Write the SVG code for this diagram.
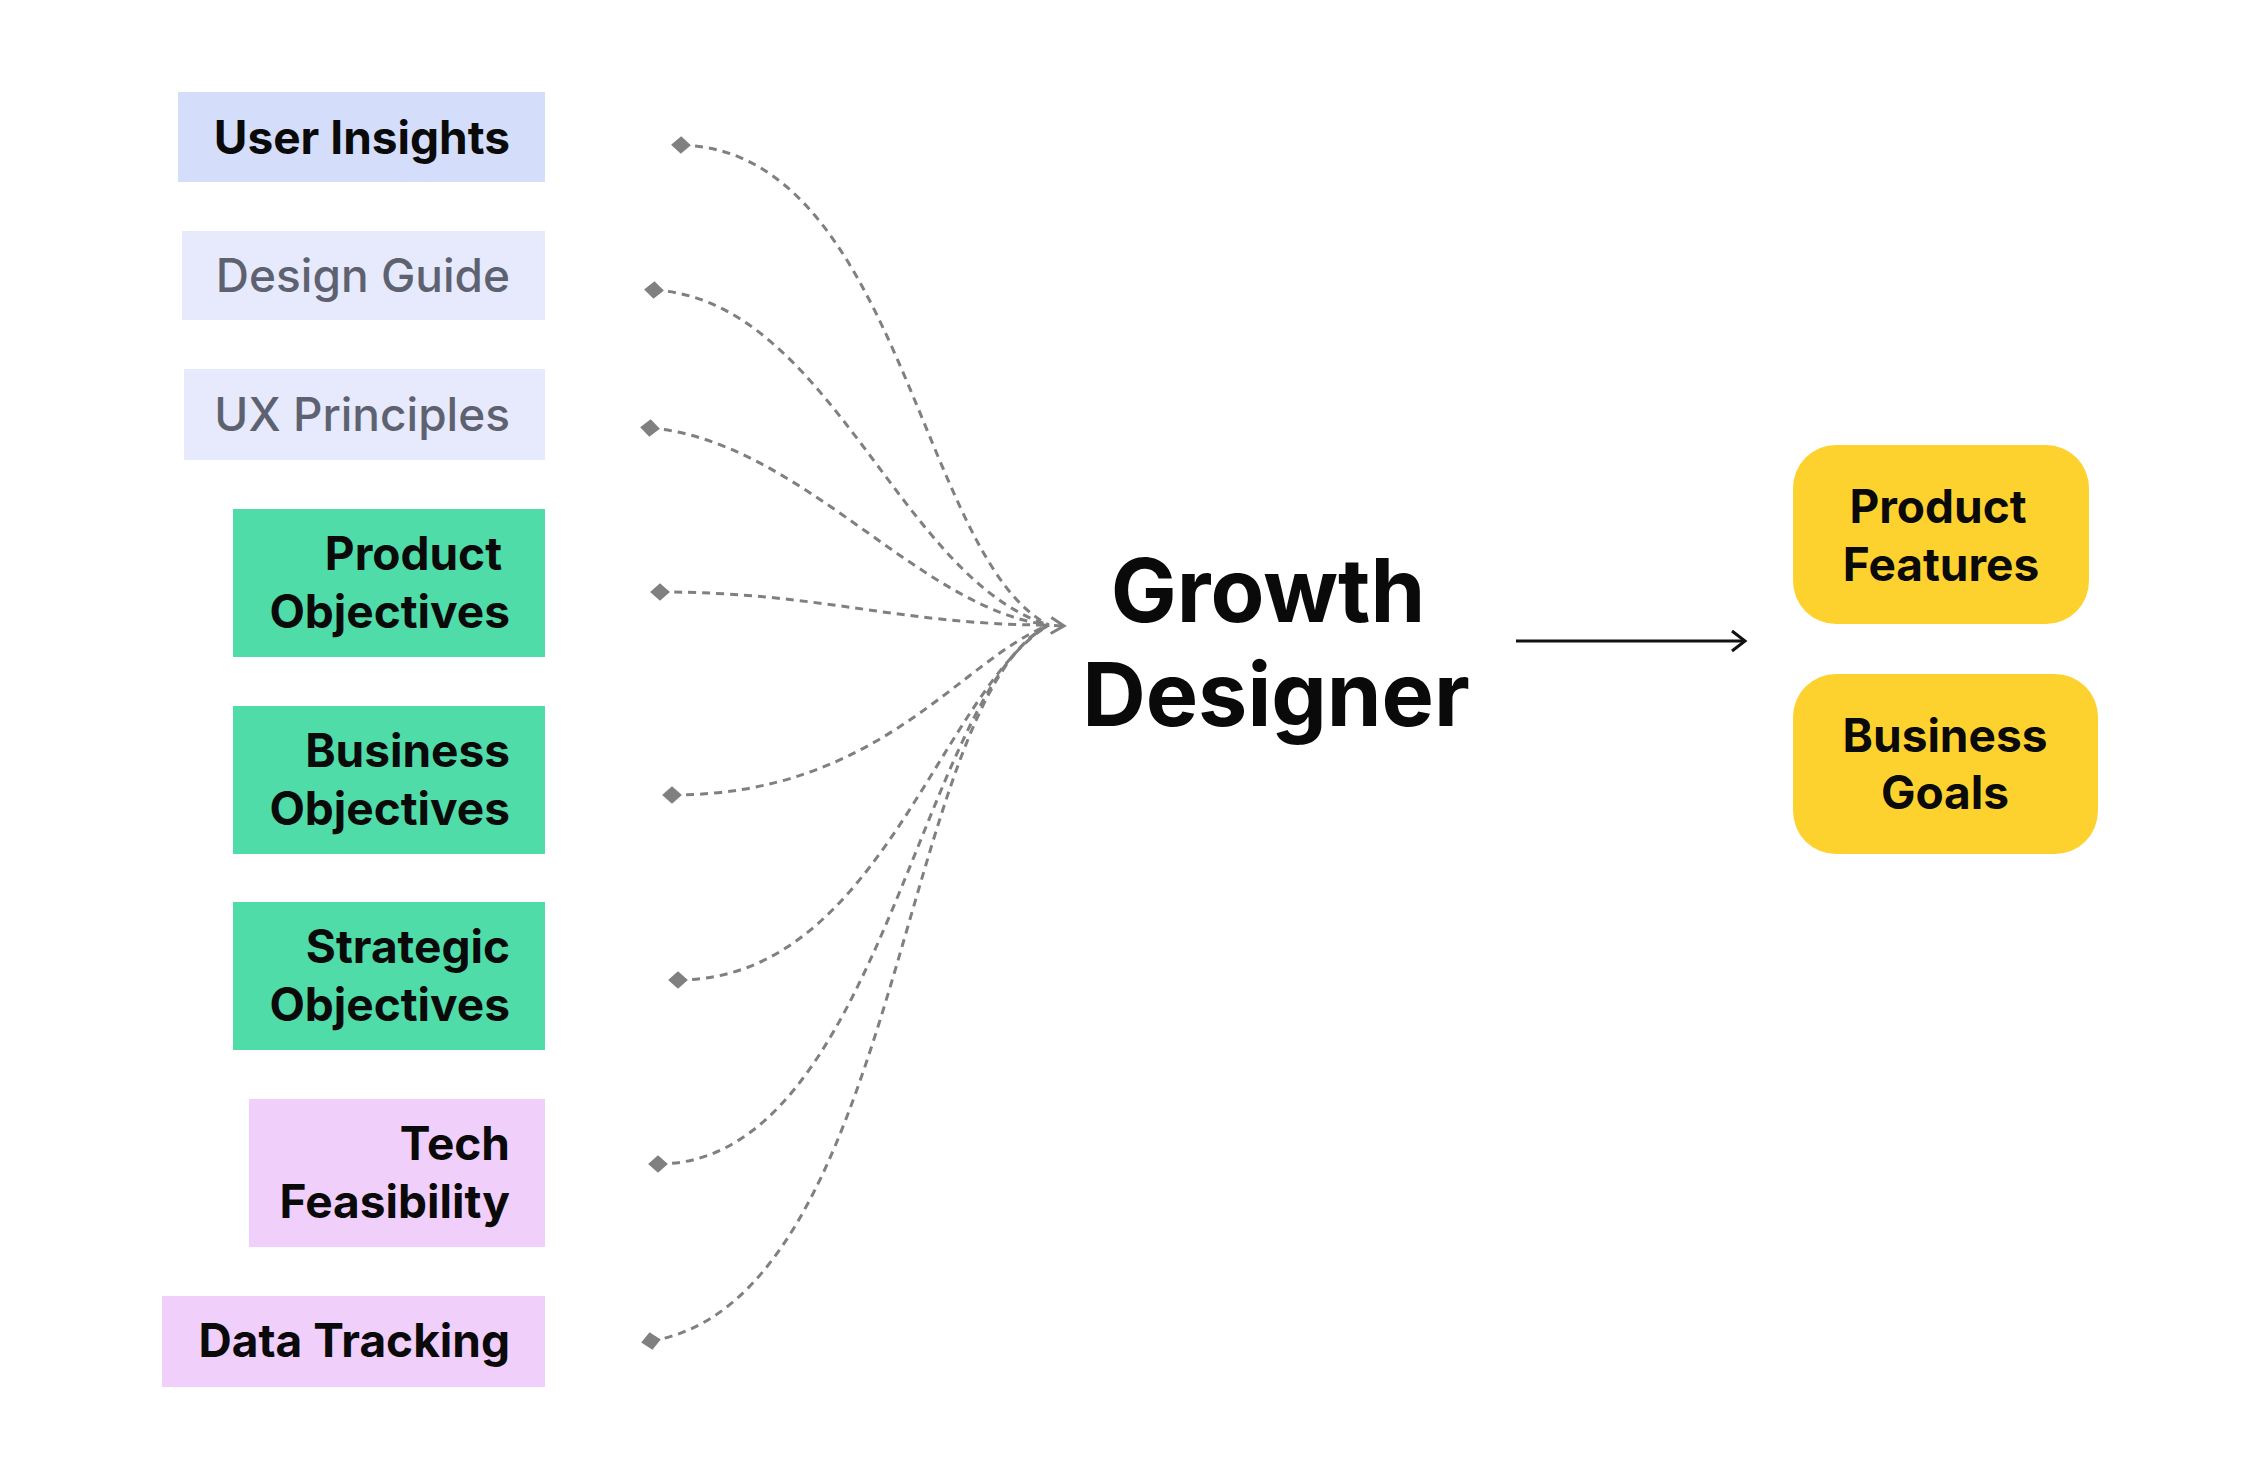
<svg xmlns="http://www.w3.org/2000/svg" width="2242" height="1464" viewBox="0 0 2242 1464">
<style>
text{font-family:Inter,"Noto Sans","Liberation Sans",sans-serif;font-size:46px;font-weight:700;fill:#0a0a0a}
.r{text-anchor:end}
.c{text-anchor:middle}
.g{font-weight:500;fill:#5e6270}
.conn{fill:none;stroke:#808080;stroke-width:3;stroke-dasharray:8 6}
</style>
<defs>
<marker id="dia" viewBox="-10 -10 20 20" markerWidth="22" markerHeight="22" markerUnits="userSpaceOnUse" orient="auto"><path d="M-9 0 L0 -8 L9 0 L0 8Z" fill="#808080"/></marker>
<marker id="open" viewBox="0 0 20 20" refX="17" refY="10" markerWidth="20" markerHeight="20" markerUnits="userSpaceOnUse" orient="auto"><path d="M4 2 L17 10 L4 18" fill="none" stroke="#808080" stroke-width="3"/></marker>
<marker id="openb" viewBox="0 0 20 24" refX="17" refY="12" markerWidth="20" markerHeight="24" markerUnits="userSpaceOnUse" orient="auto"><path d="M4 2 L17 12 L4 22" fill="none" stroke="#111" stroke-width="3"/></marker>
</defs>
<rect width="2242" height="1464" fill="#fff"/>
<g id="user-insights"><rect x="178" y="92" width="367" height="90" fill="#d4defa"/><text class="r" x="510" y="154">User Insights</text></g>
<g id="design-guide"><rect x="182" y="231" width="363" height="89" fill="#e6eafc"/><text class="r g" x="510" y="292">Design Guide</text></g>
<g id="ux-principles"><rect x="184" y="369" width="361" height="91" fill="#e6eafc"/><text class="r g" x="510" y="431">UX Principles</text></g>
<g id="product-objectives"><rect x="233" y="509" width="312" height="148" fill="#50dca8"/><text class="r" x="502" y="570">Product</text><text class="r" x="510" y="628">Objectives</text></g>
<g id="business-objectives"><rect x="233" y="706" width="312" height="148" fill="#50dca8"/><text class="r" x="510" y="767">Business</text><text class="r" x="510" y="825">Objectives</text></g>
<g id="strategic-objectives"><rect x="233" y="902" width="312" height="148" fill="#50dca8"/><text class="r" x="510" y="963">Strategic</text><text class="r" x="510" y="1021">Objectives</text></g>
<g id="tech-feasibility"><rect x="249" y="1099" width="296" height="148" fill="#f0cffa"/><text class="r" x="510" y="1160">Tech</text><text class="r" x="510" y="1218">Feasibility</text></g>
<g id="data-tracking"><rect x="162" y="1296" width="383" height="91" fill="#f0cffa"/><text class="r" x="510" y="1357">Data Tracking</text></g>
<g id="growth-designer"><text class="c" x="1268" y="622" style="font-size:88px">Growth</text><text class="c" x="1276" y="726" style="font-size:88px">Designer</text></g>
<g id="product-features"><rect x="1793" y="445" width="296" height="179" rx="43" fill="#fdd22f"/><text class="c" x="1938" y="523">Product</text><text class="c" x="1941" y="581">Features</text></g>
<g id="business-goals"><rect x="1793" y="674" width="305" height="180" rx="43" fill="#fdd22f"/><text class="c" x="1945" y="752">Business</text><text class="c" x="1945" y="809">Goals</text></g>
<g id="connectors">
<path class="conn" marker-start="url(#dia)" d="M681 145 C900 150 920 560 1049 625"/>
<path class="conn" marker-start="url(#dia)" d="M654 290 C830 300 900 580 1049 625"/>
<path class="conn" marker-start="url(#dia)" d="M650 428 C800 440 920 610 1049 625"/>
<path class="conn" marker-start="url(#dia)" d="M660 592 C820 592 900 625 1049 625"/>
<path class="conn" marker-start="url(#dia)" d="M672 795 C880 795 960 660 1049 625"/>
<path class="conn" marker-start="url(#dia)" d="M678 980 C880 980 940 690 1049 625"/>
<path class="conn" marker-start="url(#dia)" d="M658 1164 C880 1164 920 690 1049 625"/>
<path class="conn" marker-start="url(#dia)" d="M651 1341 C900 1300 900 700 1049 625"/>
<path class="conn" marker-end="url(#open)" stroke-dasharray="none" d="M1040 625 L1064 626"/>
<path fill="none" stroke="#111" stroke-width="3" marker-end="url(#openb)" d="M1516 641 L1745 641"/>
</g>
</svg>
